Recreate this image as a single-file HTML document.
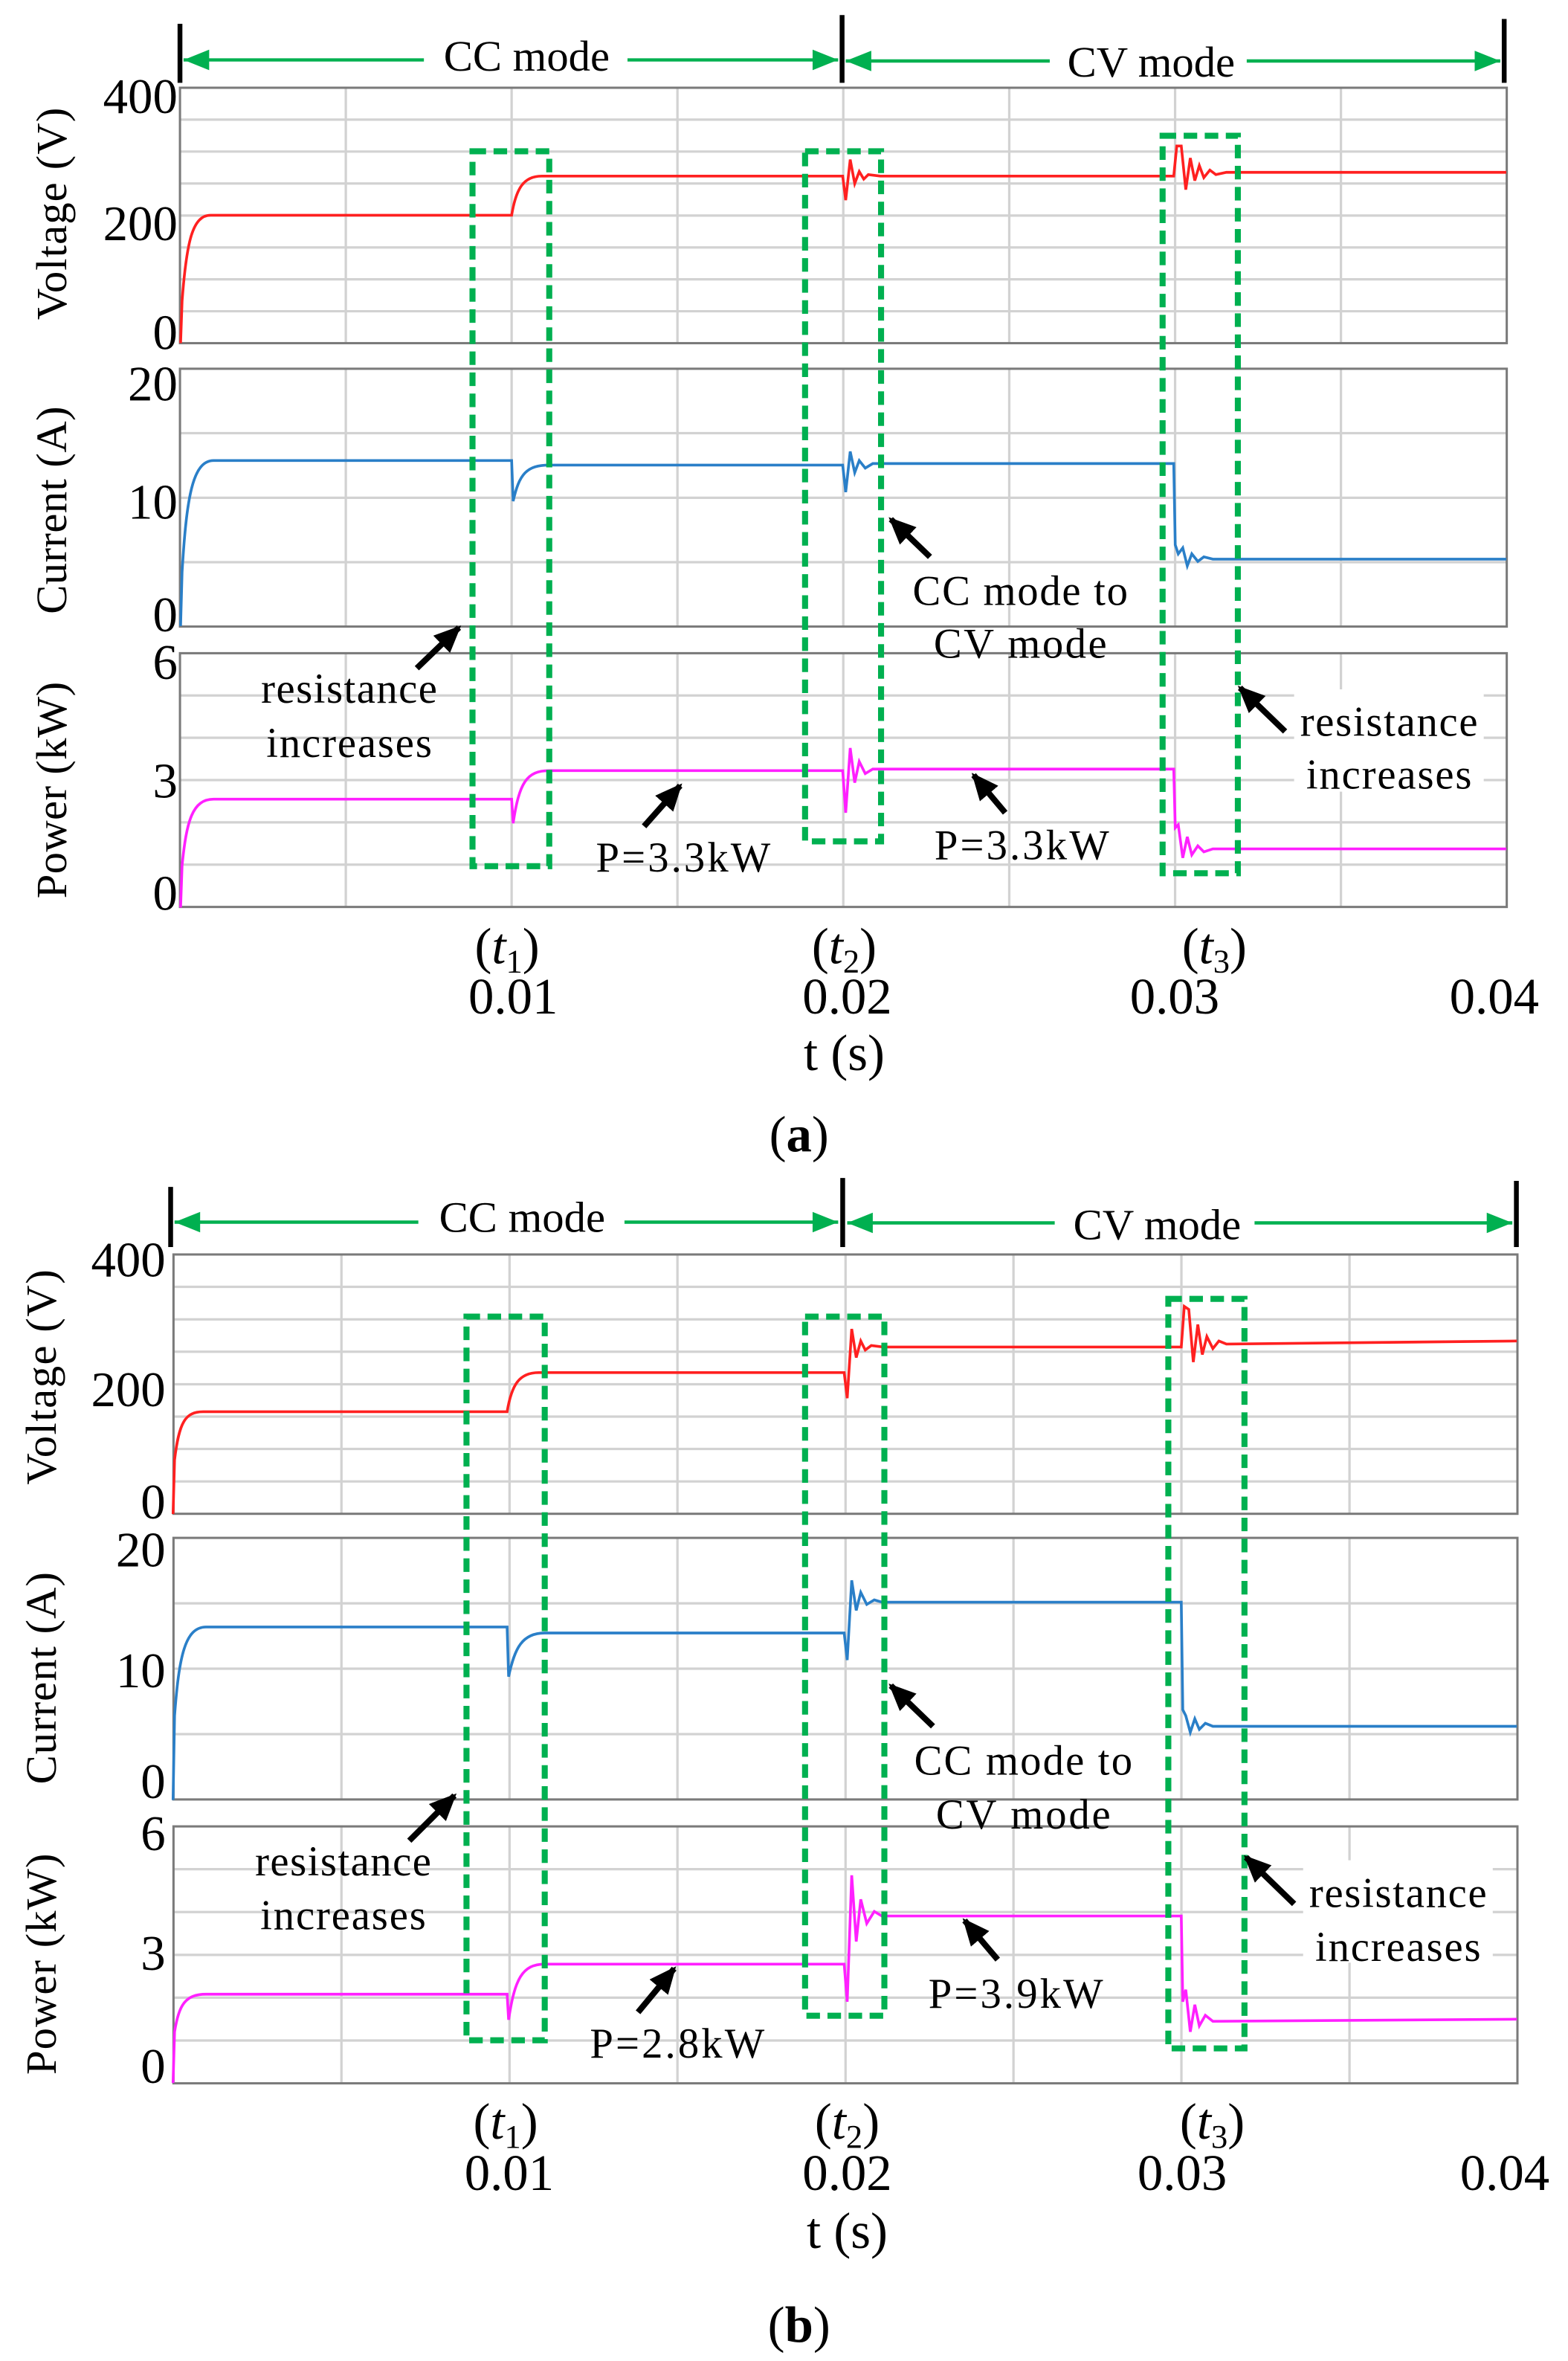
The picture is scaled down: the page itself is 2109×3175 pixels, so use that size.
<!DOCTYPE html>
<html><head><meta charset="utf-8"><style>
html,body{margin:0;padding:0;background:#fff;}
svg{display:block;}
svg text{font-family:'Liberation Serif','Times New Roman',Times,serif;fill:#000;}
</style></head><body>
<svg width="2109" height="3175" viewBox="0 0 1042 1568.7" preserveAspectRatio="none" xmlns="http://www.w3.org/2000/svg" font-family="'Liberation Serif', 'Times New Roman', Times, serif">
<defs>
<marker id="ah" markerUnits="userSpaceOnUse" markerWidth="20" markerHeight="20" refX="16" refY="8" orient="auto"><path d="M0,0 L18,8 L0,16 Z" fill="#000"/></marker>
</defs>
<rect width="1042" height="1568.7" fill="#fff"/>

<!-- ================= PANEL A ================= -->
<g stroke="#d2d2d2" stroke-width="1.6" fill="none">
<path d="M229.8,58.3V228M340,58.3V228M450.2,58.3V228M560.4,58.3V228M670.7,58.3V228M780.9,58.3V228M891.1,58.3V228
M229.8,245V416.3M340,245V416.3M450.2,245V416.3M560.4,245V416.3M670.7,245V416.3M780.9,245V416.3M891.1,245V416.3
M229.8,434V602.6M340,434V602.6M450.2,434V602.6M560.4,434V602.6M670.7,434V602.6M780.9,434V602.6M891.1,434V602.6"/>
<path d="M119.6,79.5H1001.3M119.6,100.7H1001.3M119.6,121.9H1001.3M119.6,143.2H1001.3M119.6,164.4H1001.3M119.6,185.6H1001.3M119.6,206.8H1001.3
M119.6,287.8H1001.3M119.6,330.7H1001.3M119.6,373.5H1001.3
M119.6,462.1H1001.3M119.6,490.2H1001.3M119.6,518.3H1001.3M119.6,546.4H1001.3M119.6,574.5H1001.3"/>
</g>
<g stroke="#7a7a7a" stroke-width="1.5" fill="none">
<rect x="119.6" y="58.3" width="881.7" height="169.7"/>
<rect x="119.6" y="245" width="881.7" height="171.3"/>
<rect x="119.6" y="434" width="881.7" height="168.6"/>
</g>
<path fill="none" stroke="#ff2020" stroke-width="1.8" d="M120,228 L121,200 C124,160 128,143 140,143 L340,143 C343,125 348,117 360,117 L560,117 L562,133 L565,106 L568,122 L571,114 L574,119 L577,116 L585,117 L780,117 L782,97 L785,97 L788,126 L791,105 L794,120 L797,110 L800,118 L804,113 L808,116 L815,114.5 L1001,114.5"/>
<path fill="none" stroke="#2a7fc8" stroke-width="1.8" d="M120,416 L121,380 C124,330 128,306 142,306 L340,306 L341,333 C345,315 350,309 365,309 L560,309 L562,327 L565,300 L568,314 L571,306 L575,311 L580,308 L780,308 L781,362 L783,368 L786,364 L789,376 L792,368 L796,373 L800,370 L806,371.5 L1001,371.5"/>
<path fill="none" stroke="#ff20ff" stroke-width="1.8" d="M120,603 L121,575 C124,545 128,531 142,531 L340,531 L341,547 C345,520 350,512 365,512 L560,512 L562,540 L565,497 L568,520 L571,506 L575,514 L580,511 L780,511 L781,550 L783,548 L786,570 L789,556 L792,568 L796,562 L800,566 L806,564 L1001,564"/>
<g fill="none" stroke="#00b050" stroke-width="4" stroke-dasharray="9 5">
<rect x="314" y="100.5" width="51" height="475"/>
<rect x="535" y="100.5" width="50.5" height="458.5"/>
<rect x="772.6" y="90.2" width="50" height="490"/>
</g>
<g stroke="#000" stroke-width="3.2"><path d="M119.6,15.8V55M559.6,10V55M999.6,12.6V55"/></g>
<g stroke="#00b050" stroke-width="2.2"><path d="M122,39.8H281.7M417,39.8H557M562,40.5H697.6M828.5,40.5H997"/></g>
<g fill="#00b050">
<path d="M122,39.8 L139,33 L139,46.6Z"/><path d="M557,39.8 L540,33 L540,46.6Z"/>
<path d="M562,40.5 L579,33.7 L579,47.3Z"/><path d="M997,40.5 L980,33.7 L980,47.3Z"/>
</g>
<g font-family="'Liberation Serif', 'Times New Roman', Times, serif">
<text x="350" y="47" font-size="29" text-anchor="middle">CC mode</text>
<text x="765" y="51" font-size="29" text-anchor="middle">CV mode</text>
<g font-size="33" text-anchor="end">
<text x="118" y="75">400</text><text x="118" y="159.5">200</text><text x="118" y="232">0</text>
<text x="118" y="266">20</text><text x="118" y="344.6">10</text><text x="118" y="419.5">0</text>
<text x="118" y="451">6</text><text x="118" y="530">3</text><text x="118" y="604.6">0</text>
</g>
<g font-size="29" text-anchor="middle">
<text transform="translate(44,142) rotate(-90)" textLength="141">Voltage (V)</text>
<text transform="translate(44,339) rotate(-90)" textLength="138">Current (A)</text>
<text transform="translate(44,525) rotate(-90)" textLength="144">Power (kW)</text>
</g>
</g>
<g stroke="#000" stroke-width="4" marker-end="url(#ah)">
<line x1="277" y1="444" x2="305" y2="417"/>
<line x1="428" y1="549" x2="452" y2="522"/>
<line x1="618" y1="370" x2="592" y2="345"/>
<line x1="668" y1="540" x2="647" y2="515"/>
<line x1="854" y1="486" x2="824" y2="457"/>
</g>
<g font-size="28" text-anchor="middle" font-family="'Liberation Serif', 'Times New Roman', Times, serif">
<text x="232" y="467" textLength="117">resistance</text>
<text x="232" y="503" textLength="110">increases</text>
<text x="454" y="579" textLength="116">P=3.3kW</text>
<text x="678" y="402" textLength="143">CC mode to</text>
<text x="678" y="437" textLength="115">CV mode</text>
<text x="679" y="571" textLength="116">P=3.3kW</text>
<rect x="860" y="458" width="126" height="68" fill="#fff"/>
<text x="923" y="489" textLength="118">resistance</text>
<text x="923" y="524" textLength="110">increases</text>
</g>
<g font-size="34" text-anchor="middle" font-family="'Liberation Serif', 'Times New Roman', Times, serif">
<text x="337" y="640">(<tspan font-style="italic">t</tspan><tspan font-size="22" dy="6">1</tspan><tspan dy="-6">)</tspan></text>
<text x="561" y="640">(<tspan font-style="italic">t</tspan><tspan font-size="22" dy="6">2</tspan><tspan dy="-6">)</tspan></text>
<text x="807" y="640">(<tspan font-style="italic">t</tspan><tspan font-size="22" dy="6">3</tspan><tspan dy="-6">)</tspan></text>
<text x="341" y="673.5">0.01</text><text x="563" y="673.5">0.02</text><text x="780.6" y="673.5">0.03</text><text x="993" y="673.5">0.04</text>
<text x="561" y="711">t (s)</text>
<text x="531" y="765">(<tspan font-weight="bold">a</tspan>)</text>
</g>

<!-- ================= PANEL B ================= -->
<g stroke="#d2d2d2" stroke-width="1.6" fill="none">
<path d="M226.9,833.5V1005.8M338.6,833.5V1005.8M450.2,833.5V1005.8M561.9,833.5V1005.8M673.5,833.5V1005.8M785.1,833.5V1005.8M896.8,833.5V1005.8
M226.9,1021.8V1195.6M338.6,1021.8V1195.6M450.2,1021.8V1195.6M561.9,1021.8V1195.6M673.5,1021.8V1195.6M785.1,1021.8V1195.6M896.8,1021.8V1195.6
M226.9,1213.5V1384.2M338.6,1213.5V1384.2M450.2,1213.5V1384.2M561.9,1213.5V1384.2M673.5,1213.5V1384.2M785.1,1213.5V1384.2M896.8,1213.5V1384.2"/>
<path d="M115.3,855H1008.4M115.3,876.6H1008.4M115.3,898.1H1008.4M115.3,919.7H1008.4M115.3,941.2H1008.4M115.3,962.7H1008.4M115.3,984.3H1008.4
M115.3,1065.3H1008.4M115.3,1108.7H1008.4M115.3,1152.2H1008.4
M115.3,1241.95H1008.4M115.3,1270.4H1008.4M115.3,1298.85H1008.4M115.3,1327.3H1008.4M115.3,1355.75H1008.4"/>
</g>
<g stroke="#7a7a7a" stroke-width="1.5" fill="none">
<rect x="115.3" y="833.5" width="893.1" height="172.3"/>
<rect x="115.3" y="1021.8" width="893.1" height="173.8"/>
<rect x="115.3" y="1213.5" width="893.1" height="170.7"/>
</g>
<path fill="none" stroke="#ff2020" stroke-width="1.8" d="M115,1006 L116,970 C119,945 123,938 135,938 L337,938 C340,920 345,912 358,912 L561,912 L563,929 L566,883 L569,902 L572,891 L575,897 L579,894 L587,895 L785,895 L787,868 L790,870 L793,905 L796,880 L799,900 L802,888 L806,896 L810,891 L815,893 L1008,891"/>
<path fill="none" stroke="#2a7fc8" stroke-width="1.8" d="M115,1196 L116,1140 C119,1100 123,1081 137,1081 L337,1081 L338,1114 C342,1095 347,1085 362,1085 L561,1085 L563,1103 L566,1050 L569,1070 L572,1058 L576,1066 L581,1063 L586,1064.5 L785,1064.5 L786,1136 L788,1140 L791,1151 L794,1142 L797,1149 L801,1145 L806,1147 L1008,1147"/>
<path fill="none" stroke="#ff20ff" stroke-width="1.8" d="M115,1384 L116,1350 C119,1332 123,1325 137,1325 L337,1325 L338,1342 C342,1315 347,1305 362,1305 L561,1305 L563,1330 L566,1246 L569,1290 L572,1262 L576,1278 L581,1270 L586,1273 L785,1273 L786,1330 L788,1322 L791,1350 L794,1332 L797,1346 L801,1339 L806,1343 L1008,1341.6"/>
<g fill="none" stroke="#00b050" stroke-width="4" stroke-dasharray="9 5">
<rect x="310" y="874.8" width="52" height="480.8"/>
<rect x="535" y="874.8" width="52.7" height="464.5"/>
<rect x="776.4" y="863" width="50.6" height="498"/>
</g>
<g stroke="#000" stroke-width="3.2"><path d="M113.4,788.6V828.6M560,782.7V828.6M1007.7,784.6V828.6"/></g>
<g stroke="#00b050" stroke-width="2.2"><path d="M116,812H278M415,812H557M563,812.5H700.9M833.7,812.5H1005"/></g>
<g fill="#00b050">
<path d="M116,812 L133,805.2 L133,818.8Z"/><path d="M557,812 L540,805.2 L540,818.8Z"/>
<path d="M563,812.5 L580,805.7 L580,819.3Z"/><path d="M1005,812.5 L988,805.7 L988,819.3Z"/>
</g>
<g font-family="'Liberation Serif', 'Times New Roman', Times, serif">
<text x="347" y="818.4" font-size="29" text-anchor="middle">CC mode</text>
<text x="769" y="823.5" font-size="29" text-anchor="middle">CV mode</text>
<g font-size="33" text-anchor="end">
<text x="110" y="848">400</text><text x="110" y="934.3">200</text><text x="110" y="1009">0</text>
<text x="110" y="1040.7">20</text><text x="110" y="1121">10</text><text x="110" y="1194.7">0</text>
<text x="110" y="1229.3">6</text><text x="110" y="1308.7">3</text><text x="110" y="1384">0</text>
</g>
<g font-size="29" text-anchor="middle">
<text transform="translate(37,915) rotate(-90)" textLength="143">Voltage (V)</text>
<text transform="translate(37,1115) rotate(-90)" textLength="141">Current (A)</text>
<text transform="translate(37,1305) rotate(-90)" textLength="147">Power (kW)</text>
</g>
</g>
<g stroke="#000" stroke-width="4" marker-end="url(#ah)">
<line x1="272" y1="1223" x2="302" y2="1193"/>
<line x1="424" y1="1337" x2="448" y2="1308"/>
<line x1="620" y1="1147" x2="592" y2="1120"/>
<line x1="663" y1="1302" x2="641" y2="1276"/>
<line x1="860" y1="1265" x2="828" y2="1234"/>
</g>
<g font-size="28" text-anchor="middle" font-family="'Liberation Serif', 'Times New Roman', Times, serif">
<text x="228" y="1246" textLength="117">resistance</text>
<text x="228" y="1282" textLength="110">increases</text>
<text x="450" y="1367" textLength="116">P=2.8kW</text>
<text x="680" y="1179" textLength="145">CC mode to</text>
<text x="680" y="1215" textLength="116">CV mode</text>
<text x="675" y="1334" textLength="116">P=3.9kW</text>
<rect x="866" y="1236" width="126" height="68" fill="#fff"/>
<text x="929" y="1267" textLength="118">resistance</text>
<text x="929" y="1303" textLength="110">increases</text>
</g>
<g font-size="34" text-anchor="middle" font-family="'Liberation Serif', 'Times New Roman', Times, serif">
<text x="336" y="1421">(<tspan font-style="italic">t</tspan><tspan font-size="22" dy="6">1</tspan><tspan dy="-6">)</tspan></text>
<text x="563" y="1421">(<tspan font-style="italic">t</tspan><tspan font-size="22" dy="6">2</tspan><tspan dy="-6">)</tspan></text>
<text x="805.6" y="1421">(<tspan font-style="italic">t</tspan><tspan font-size="22" dy="6">3</tspan><tspan dy="-6">)</tspan></text>
<text x="338.4" y="1455">0.01</text><text x="563" y="1455">0.02</text><text x="785.6" y="1455">0.03</text><text x="1000" y="1455">0.04</text>
<text x="563" y="1493.7">t (s)</text>
<text x="531" y="1556">(<tspan font-weight="bold">b</tspan>)</text>
</g>
</svg>
</body></html>
